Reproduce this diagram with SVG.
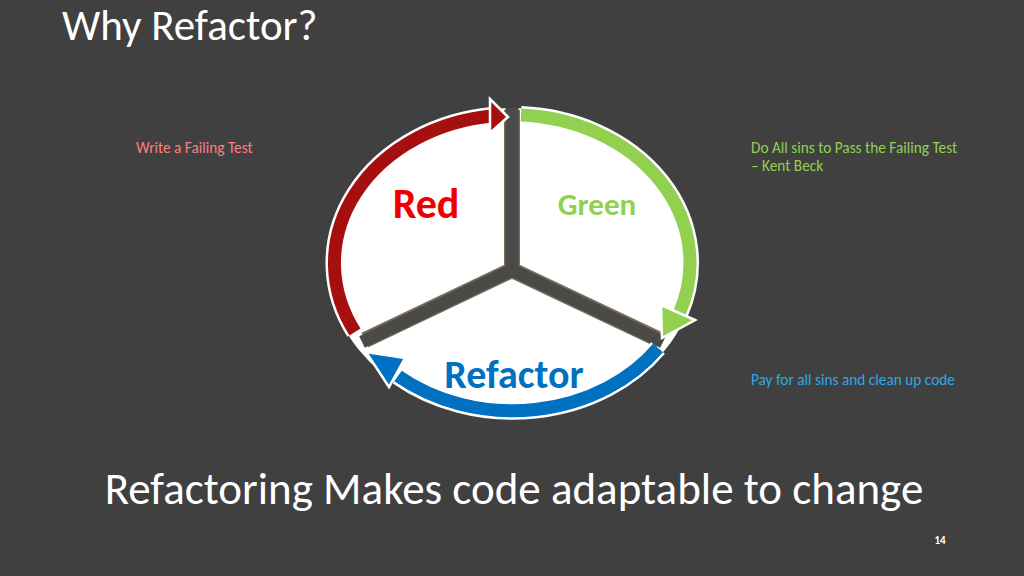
<svg xmlns="http://www.w3.org/2000/svg" width="1024" height="576" viewBox="0 0 1024 576">
<style>
text{font-family:Calibri,"Liberation Sans",Arial,sans-serif}
.arc{fill:none;stroke-width:13}
.out{fill:none;stroke:#fff;stroke-width:18}
.spoke{stroke:#4a4a48;stroke-width:13;stroke-linecap:butt}
.side{font-size:15.3px}
</style>
<rect width="1024" height="576" fill="#404040"/>
<text x="62" y="40" font-size="43" fill="#fff">Why Refactor?</text>
<g id="pie">
<ellipse cx="512" cy="263" rx="185" ry="155" fill="#fff"/>
<g stroke="#7a6a55" stroke-width="16"><line x1="512" y1="270" x2="512" y2="110"/><line x1="512" y1="270" x2="365" y2="340"/><line x1="512" y1="270" x2="660" y2="340"/></g>
<g class="spoke"><line x1="512" y1="270" x2="512" y2="108"/><line x1="512" y1="270" x2="362" y2="342"/><line x1="512" y1="270" x2="663" y2="342"/></g>
</g>
<g id="connectors">
<path class="out" d="M355,332 A178,148 0 0 1 492,116"/>
<path class="arc" stroke="#a50f0f" d="M355,332 A178,148 0 0 1 492,116"/>
<polygon points="490,99 508,117 490,133" fill="#a50f0f" stroke="#fff" stroke-width="2.5"/>
<path class="out" d="M521,115 A178,148 0 0 1 679,314"/>
<path class="arc" stroke="#92d050" d="M521,115 A178,148 0 0 1 679,314"/>
<polygon points="695,320 661,305 662,338" fill="#92d050" stroke="#fff" stroke-width="2.5"/>
<path class="out" d="M658,348 A178,148 0 0 1 398,376"/>
<path class="arc" stroke="#0070c0" d="M658,348 A178,148 0 0 1 398,376"/>
<polygon points="405,358 389,387 366,352" fill="#0070c0" stroke="#fff" stroke-width="2.5"/>
</g>
<g id="labels" font-weight="bold">
<text x="426" y="218" font-size="42" fill="#e00" text-anchor="middle">Red</text>
<text x="597" y="215" font-size="31" fill="#92d050" text-anchor="middle">Green</text>
<text x="514" y="388" font-size="40" fill="#0070c0" text-anchor="middle">Refactor</text>
</g>
<text class="side" x="136" y="153" fill="#ff7c80">Write a Failing Test</text>
<text class="side" x="751" y="153" fill="#92d050">Do All sins to Pass the Failing Test</text>
<text class="side" x="751" y="171" fill="#92d050">– Kent Beck</text>
<text class="side" x="751" y="385" fill="#2ea8e6">Pay for all sins and clean up code</text>
<text x="514" y="504" font-size="45" fill="#fff" text-anchor="middle">Refactoring Makes code adaptable to change</text>
<text x="940" y="544" font-size="11" font-weight="bold" fill="#fff" text-anchor="middle">14</text>
</svg>
